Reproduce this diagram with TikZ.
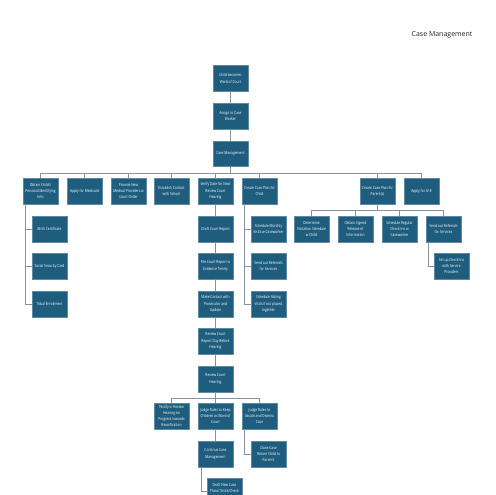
\documentclass[tikz,border=0pt]{standalone}
\usepackage{fontspec}
\setmainfont{Open Sans}
\newfontfamily\boxfont[FakeStretch=0.8]{Open Sans}
\definecolor{boxfill}{HTML}{1E5D7E}
\definecolor{boxline}{HTML}{5F8AA2}
\definecolor{linegray}{HTML}{85929B}
\newcommand\bxl[1]{\makebox[0pt]{#1}}
\tikzset{
  cbox/.style={draw=boxline, line width=0.5pt, fill=boxfill, text=white,
    minimum width=35pt, minimum height=25.5pt, inner sep=0pt, align=center,
    font=\boxfont\fontsize{4.1}{6.2}\selectfont},
  conn/.style={draw=linegray, line width=0.8pt},
  titletext/.style={font=\fontsize{7}{8}\selectfont, text=black!85, inner sep=0pt}
}
\begin{document}
\begin{tikzpicture}[x=1pt,y=-1pt]
\useasboundingbox[fill=white] (0,0) rectangle (495,495);
\clip (0,0) rectangle (495,495);
\node[titletext] (title) at (442,35) {Case Management};
% top chain
\node[cbox] (ward) at (230.5,78.5) {\bxl{Child becomes}\\\bxl{Ward of Court}};
\node[cbox] (assign) at (230.5,116) {\bxl{Assign to Case}\\\bxl{Worker}};
\node[cbox] (cm) at (230.5,153.5) {\bxl{Case Management}};
% row 1
\node[cbox] (obtain) at (40.5,191) {\bxl{Obtain Child's}\\\bxl{Personal Identifying}\\\bxl{Info}};
\node[cbox] (medicaid) at (84.5,191) {\bxl{Apply for Medicaid}};
\node[cbox] (provide) at (128.5,191) {\bxl{Provide New}\\\bxl{Medical Providers w}\\\bxl{Court Order}};
\node[cbox] (school) at (171.5,191) {\bxl{Establish Contact}\\\bxl{with School}};
\node[cbox] (verify) at (215.5,191) {\bxl{Verify Date for Next}\\\bxl{Review Court}\\\bxl{Hearing}};
\node[cbox] (planchild) at (259.5,191) {\bxl{Create Case Plan for}\\\bxl{Child}};
\node[cbox] (planpar) at (377.5,191) {\bxl{Create Case Plan for}\\\bxl{Parent(s)}};
\node[cbox] (ive) at (421.5,191) {\bxl{Apply for IV-E}};
% obtain children
\node[cbox] (birth) at (49.5,229) {\bxl{Birth Certificate}};
\node[cbox] (ssc) at (49.5,266) {\bxl{Social Security Card}};
\node[cbox] (tribal) at (49.5,304) {\bxl{Tribal Enrollment}};
% verify chain
\node[cbox] (draft) at (215.5,229) {\bxl{Draft Court Report}};
\node[cbox] (file) at (215.5,266) {\bxl{File Court Report w}\\\bxl{Evidence Timely}};
\node[cbox] (contact) at (215.5,304) {\bxl{Make Contact with}\\\bxl{Prosecutor and}\\\bxl{Update}};
\node[cbox] (reviewrep) at (215.5,341) {\bxl{Review Court}\\\bxl{Report Day Before}\\\bxl{Hearing}};
\node[cbox] (hearing) at (215.5,379) {\bxl{Review Court}\\\bxl{Hearing}};
\node[cbox] (testify) at (171.5,416) {\bxl{Testify in Review}\\\bxl{Hearing on}\\\bxl{Progress towards}\\\bxl{Reunification}};
\node[cbox] (keep) at (215.5,416) {\bxl{Judge Rules to Keep}\\\bxl{Children as Ward of}\\\bxl{Court}};
\node[cbox] (vacate) at (259.5,416) {\bxl{Judge Rules to}\\\bxl{Vacate and Dismiss}\\\bxl{Case}};
\node[cbox] (continue) at (215.5,454) {\bxl{Continue Case}\\\bxl{Management}};
\node[cbox] (close) at (268.5,454) {\bxl{Close Case}\\\bxl{Return Child to}\\\bxl{Parents}};
\node[cbox] (newplan) at (224.5,491) {\bxl{Draft New Case}\\\bxl{Plans/ Visits/Check}\\\mbox{}};
% plan child children
\node[cbox] (monthly) at (268.5,229) {\bxl{Schedule Monthly}\\\bxl{Visits w Caseworker}};
\node[cbox] (refchild) at (268.5,266) {\bxl{Send out Referrals}\\\bxl{for Services}};
\node[cbox] (sibling) at (268.5,304) {\bxl{Schedule Sibling}\\\bxl{Visits if not placed}\\\bxl{together}};
% plan parents children
\node[cbox] (visit) at (311.5,229) {\bxl{Determine}\\\bxl{Visitation Schedule}\\\bxl{w Child}};
\node[cbox] (release) at (355.5,229) {\bxl{Obtain Signed}\\\bxl{Release of}\\\bxl{Information}};
\node[cbox] (checkins) at (399.5,229) {\bxl{Schedule Regular}\\\bxl{Check-Ins w}\\\bxl{Caseworker}};
\node[cbox] (refpar) at (443.5,229) {\bxl{Send out Referrals}\\\bxl{for Services}};
\node[cbox] (setup) at (451.5,266) {\bxl{Set up Check-Ins}\\\bxl{with Service}\\\bxl{Providers}};
% bus coordinates
\coordinate (busA) at (0,173);
\coordinate (busB) at (0,210);
\coordinate (busC) at (0,398);
% connectors
\draw[conn] (ward) -- (assign);
\draw[conn] (assign) -- (cm);
\draw[conn] (cm.south) -- (cm.south |- busA);
\draw[conn] (obtain.north |- busA) -- (ive.north |- busA);
\foreach \n in {obtain,medicaid,provide,school,verify,planchild,planpar,ive}
  \draw[conn] (\n.north) -- (\n.north |- busA);
\foreach \n in {birth,ssc,tribal}
  \draw[conn] ([xshift=3pt]obtain.south west) |- (\n.west);
\draw[conn] (verify) -- (draft);
\draw[conn] (draft) -- (file);
\draw[conn] (file) -- (contact);
\draw[conn] (contact) -- (reviewrep);
\draw[conn] (reviewrep) -- (hearing);
\draw[conn] (hearing.south) -- (hearing.south |- busC);
\draw[conn] (testify.north |- busC) -- (vacate.north |- busC);
\foreach \n in {testify,keep,vacate}
  \draw[conn] (\n.north) -- (\n.north |- busC);
\draw[conn] (keep) -- (continue);
\draw[conn] ([xshift=3pt]vacate.south west) |- (close.west);
\draw[conn] ([xshift=4pt]continue.south west) |- (newplan.west);
\foreach \n in {monthly,refchild,sibling}
  \draw[conn] ([xshift=3pt]planchild.south west) |- (\n.west);
\draw[conn] (planpar.south) -- (planpar.south |- busB);
\draw[conn] (visit.north |- busB) -- (refpar.north |- busB);
\foreach \n in {visit,release,checkins,refpar}
  \draw[conn] (\n.north) -- (\n.north |- busB);
\draw[conn] ([xshift=2.5pt]refpar.south west) |- (setup.west);
\end{tikzpicture}
\end{document}
